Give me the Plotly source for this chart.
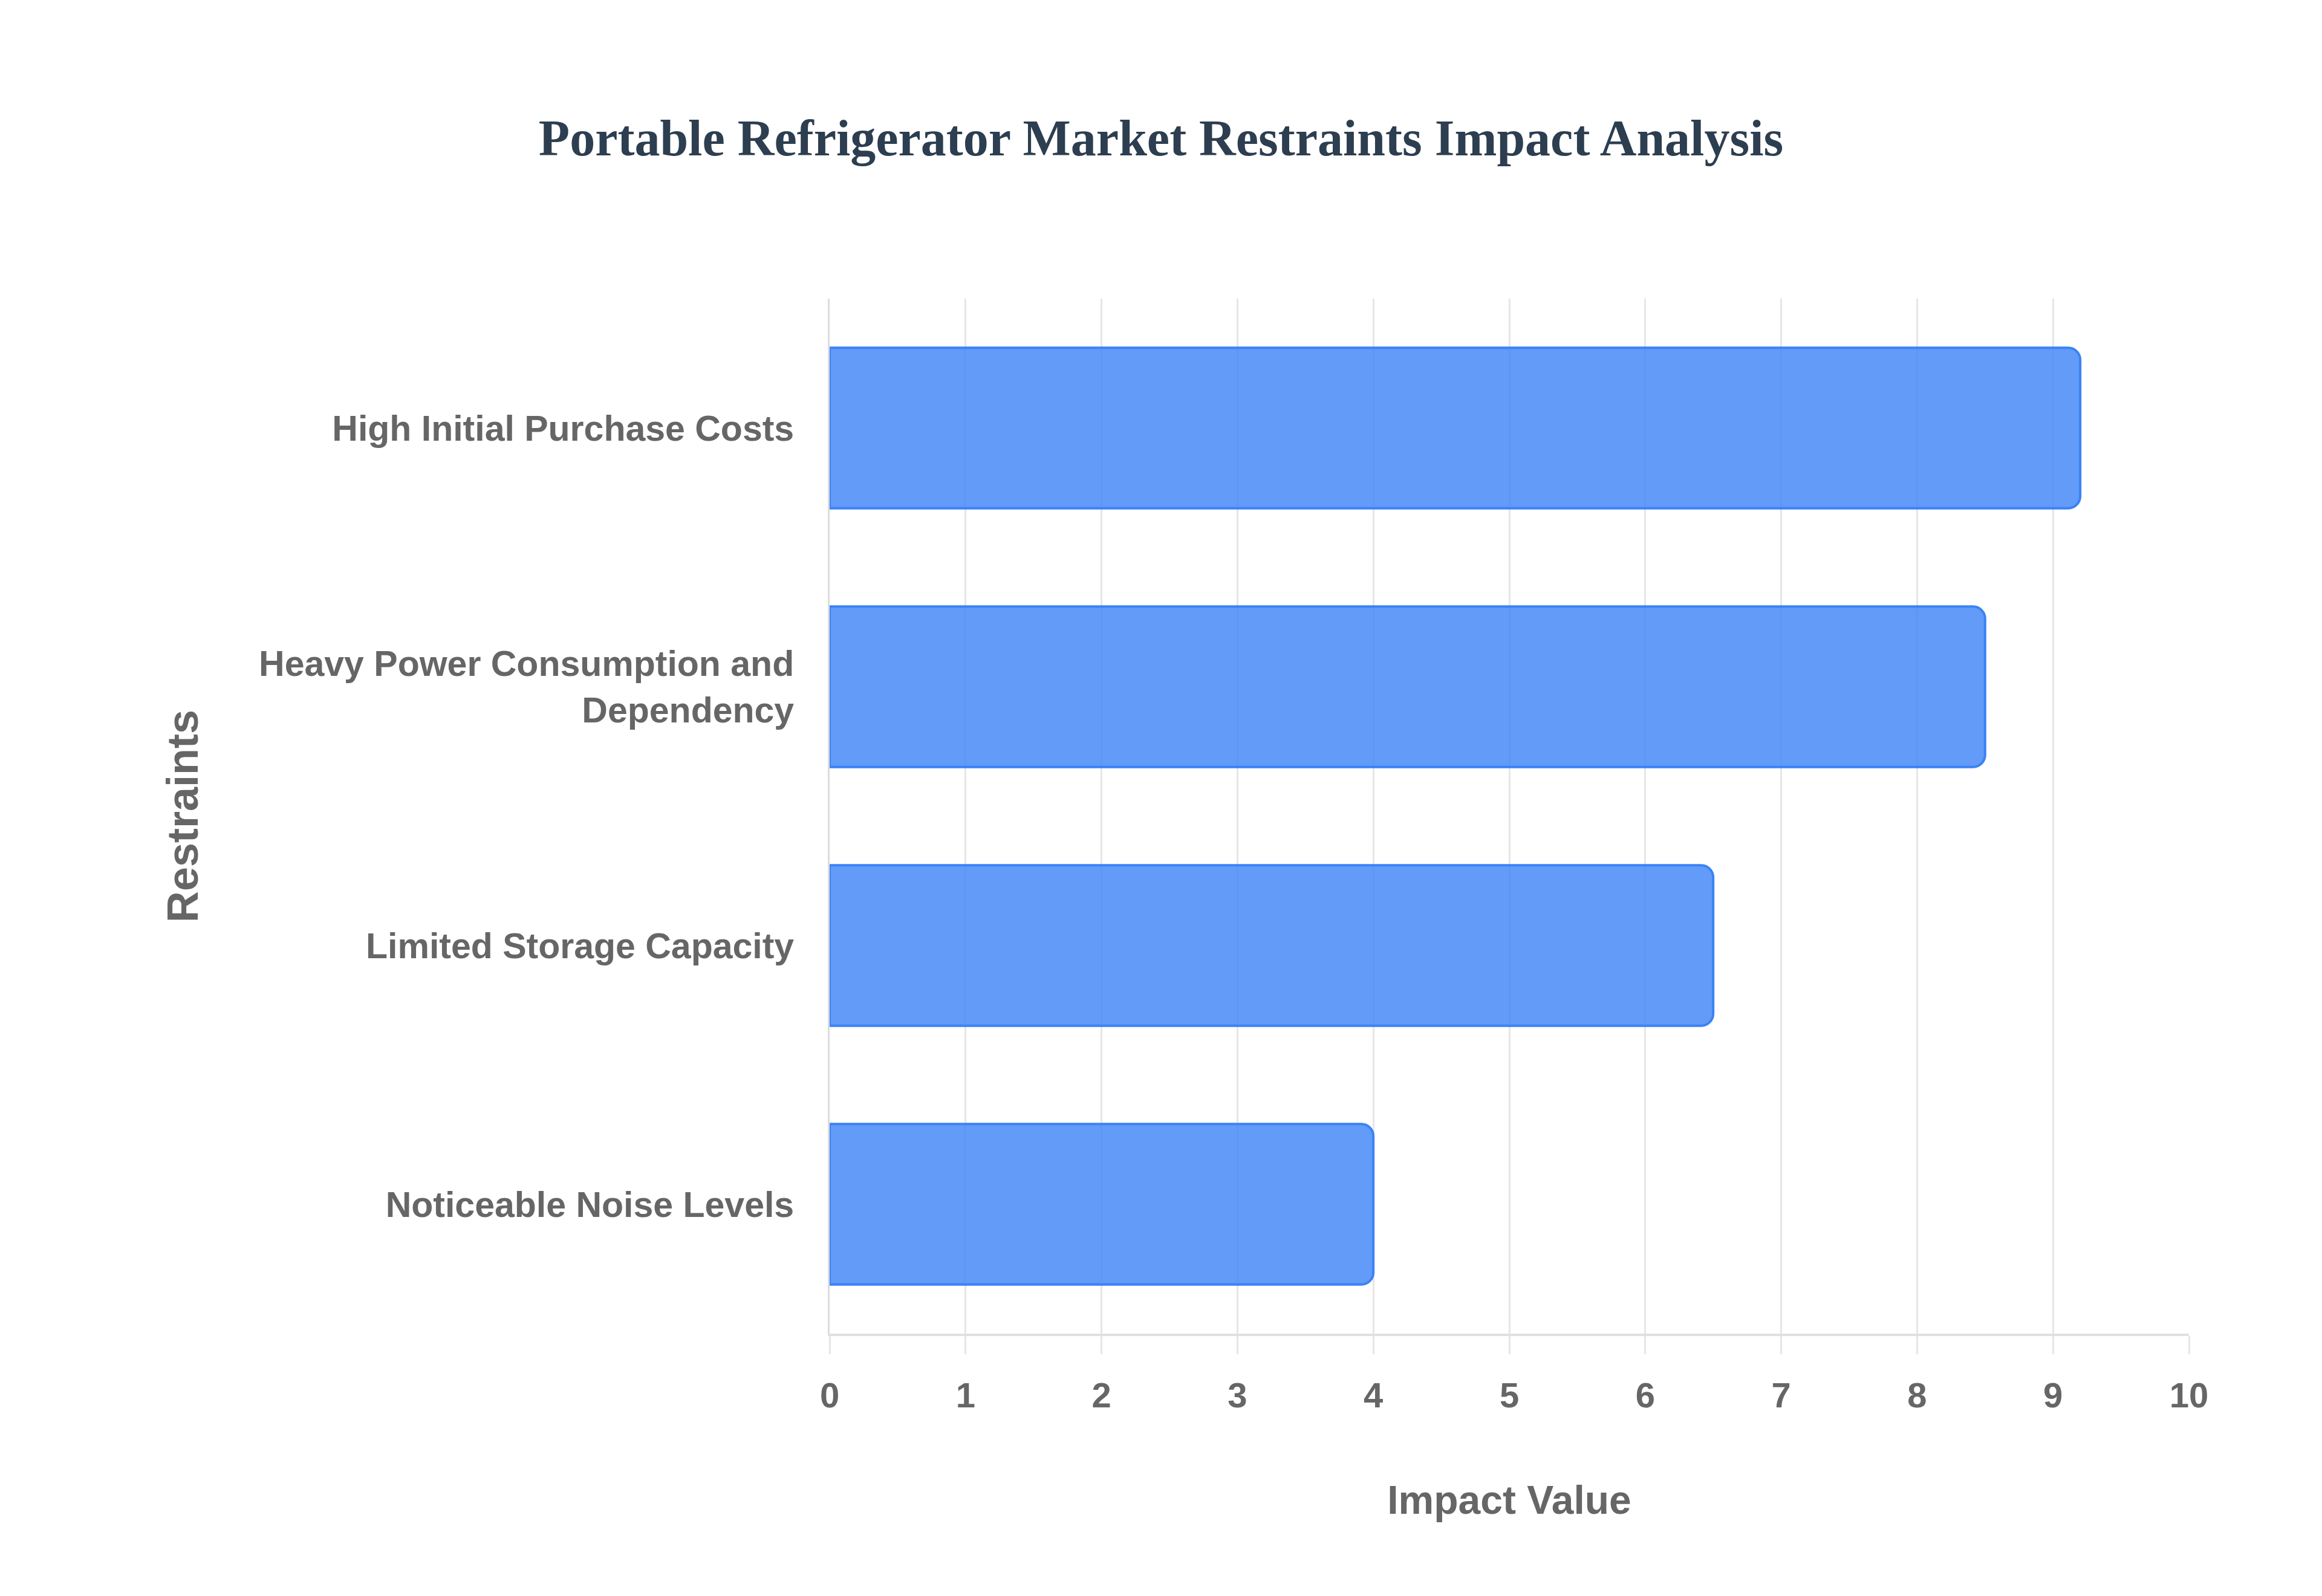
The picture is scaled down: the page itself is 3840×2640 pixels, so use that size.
import plotly.graph_objects as go

categories = [
    "High Initial Purchase Costs",
    "Heavy Power Consumption and<br>Dependency",
    "Limited Storage Capacity",
    "Noticeable Noise Levels",
]
impact_values = [9.2, 8.5, 6.5, 4.0]
x_tick_values = [0, 1, 2, 3, 4, 5, 6, 7, 8, 9, 10]

TEXT_GRAY = "#666666"
GRID = "#e6e6e6"
SANS = "Liberation Sans, Arial, sans-serif"

fig = go.Figure(
    go.Bar(
        x=impact_values,
        y=categories,
        orientation="h",
        marker=dict(
            color="rgba(59,130,246,0.8)",
            line=dict(color="rgb(59,130,246)", width=4),
        ),
        hoverinfo="x+y",
    )
)

fig.update_layout(
    width=3840,
    height=2640,
    paper_bgcolor="white",
    plot_bgcolor="white",
    margin=dict(l=1364, r=228, t=486, b=442),
    bargap=0.38,
    barcornerradius=20,
    showlegend=False,
    title=dict(
        text="<b>Portable Refrigerator Market Restraints Impact Analysis</b>",
        font=dict(family="Liberation Serif, Times New Roman, serif", size=84, color="#2c3e50"),
        x=1912 / 3840,
        xref="container",
        xanchor="center",
        y=1 - 220 / 2640,
        yref="container",
        yanchor="middle",
    ),
    xaxis=dict(
        range=[0, 10],
        tickvals=x_tick_values,
        showgrid=True,
        gridcolor=GRID,
        gridwidth=3,
        zeroline=False,
        showline=True,
        linecolor="#e0e0e0",
        linewidth=4,
        ticks="outside",
        ticklen=30,
        tickwidth=3,
        tickcolor=GRID,
        ticklabelstandoff=18,
        tickfont=dict(family=SANS, size=58, color=TEXT_GRAY, weight="bold"),
        title=dict(
            text="Impact Value",
            font=dict(family=SANS, size=66, color=TEXT_GRAY, weight="bold"),
            standoff=120,
        ),
    ),
    yaxis=dict(
        autorange="reversed",
        showgrid=False,
        zeroline=False,
        showline=True,
        linecolor="#dcdcdc",
        linewidth=3,
        ticks="",
        ticklabelstandoff=44,
        tickfont=dict(family=SANS, size=59, color=TEXT_GRAY, weight="bold"),
        title=dict(
            text="Restraints",
            font=dict(family=SANS, size=72, color=TEXT_GRAY, weight="bold"),
            standoff=77,
        ),
    ),
)

fig.write_html("out.html")
